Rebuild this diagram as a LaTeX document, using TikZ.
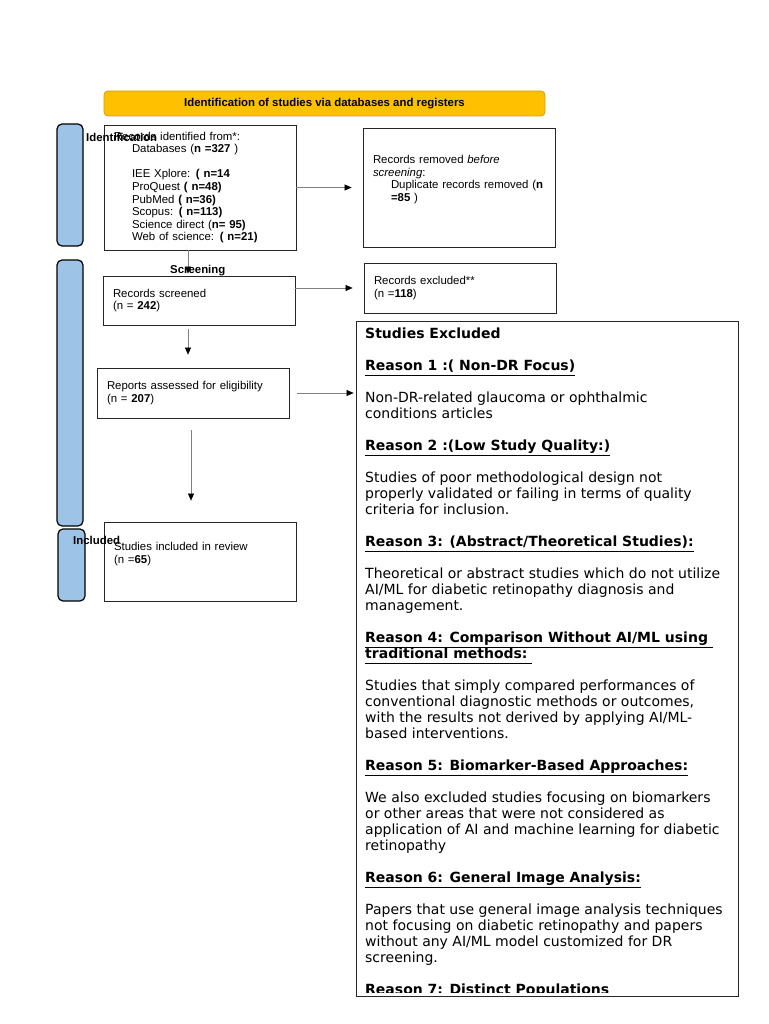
\documentclass[tikz,border=0pt]{standalone}
\usepackage{fontspec}
\setmainfont{Liberation Sans}
\newfontfamily\dejavu{DejaVu Sans}
\usetikzlibrary{arrows.meta}
\definecolor{headgold}{RGB}{255,192,0}
\definecolor{headedge}{RGB}{214,160,20}
\definecolor{barblue}{RGB}{157,195,230}
\newcommand\reasonline[1]{\underline{\smash{#1}\vphantom{y}}}

\begin{document}
\begin{tikzpicture}[
      x=1pt, y=-1pt,
      every node/.style={font=\fontsize{11.4}{12.6}\selectfont},
      header/.style={rectangle, draw=headedge, fill=headgold, rounded corners=4pt, line width=0.8pt, font=\fontsize{11.4}{12.6}\selectfont\bfseries},
      phase/.style={rectangle, draw=black, fill=barblue, rounded corners=5pt, line width=1.2pt},
      phaselabel/.style={anchor=west, inner sep=0pt, font=\fontsize{11.4}{12.6}\selectfont\bfseries},
      box/.style={rectangle, draw=black!85, line width=0.8pt, text width=172pt, inner xsep=10pt, align=left},
      bigtext/.style={anchor=north west, inner sep=0pt, align=left, font=\dejavu\fontsize{14}{16}\selectfont},
      pointer/.style={draw=gray, line width=0.6pt, -{Triangle[length=7pt,width=6pt,color=black]}}
      ]

      \useasboundingbox (0,0) rectangle (768,1024);

      %title and phase bars
      \node[header, minimum width=441pt, minimum height=25pt] (title) at (324.5,103.5) {Identification of studies via databases and registers};

      \node[phase, minimum width=26pt, minimum height=122pt] (identbar) at (70,185) {};
      \node[phase, minimum width=26pt, minimum height=266pt] (screenbar) at (70,393) {};
      \node[phase, minimum width=27pt, minimum height=72pt] (inclbar) at (71.5,565) {};

      %flow boxes
      \node[box, minimum height=125pt] (identified) at (200,187.5) {
        Records identified from*:\\
        \hspace*{18pt}Databases (\textbf{n =327} )\\[12.6pt]
        \hspace*{18pt}IEE Xplore: \textbf{( n=14}\\
        \hspace*{18pt}ProQuest \textbf{( n=48)}\\
        \hspace*{18pt}PubMed \textbf{( n=36)}\\
        \hspace*{18pt}Scopus: \textbf{( n=113)}\\
        \hspace*{18pt}Science direct (\textbf{n= 95)}\\
        \hspace*{18pt}Web of science: \textbf{( n=21)}
      };
      \node[box, minimum height=119pt] (removed) at (459,187.5) {
        Records removed \textit{before}\\
        \textit{screening}:\\
        \hspace*{18pt}Duplicate records removed (\textbf{n}\\
        \hspace*{18pt}\textbf{=85} )\\[6pt]
        \mbox{}
      };
      \node[box, minimum height=49pt] (screened) at (199,300.5) {
        Records screened\\
        (n = \textbf{242})
      };
      \node[box, minimum height=50pt] (excluded) at (460,288) {
        Records excluded**\\
        (n =\textbf{118})
      };
      \node[box, minimum height=50pt, font=\fontsize{11.4}{13.6}\selectfont] (assessed) at (193,393) {
        Reports assessed for eligibility\\
        (n = \textbf{207})
      };
      \node[box, minimum height=79pt, font=\fontsize{11.4}{13.6}\selectfont] (included) at (200,561.5) {
        Studies included in review\\
        (n =\textbf{65})\\[3.4pt]
        \mbox{}
      };

      %phase labels
      \node[phaselabel] (identlabel) at (86,137) {Identification};
      \node[phaselabel] (screenlabel) at (170,271) {Screening};
      \node[phaselabel] (incllabel) at (73,540) {Included};

      %exclusion reasons
      \node[rectangle, draw=black!85, line width=0.8pt, minimum width=382pt, minimum height=675pt] (reasons) at (547,658.5) {};
      \begin{scope}
        \clip ([yshift=4pt]reasons.south west) rectangle (reasons.north east);
        \node[bigtext] (reasonstext) at (365,327.5) {
          \textbf{Studies Excluded}\\[16pt]
          \textbf{\reasonline{Reason 1 :( Non-DR Focus)}}\\[16pt]
          Non-DR-related glaucoma or ophthalmic\\
          conditions articles\\[16pt]
          \textbf{\reasonline{Reason 2 :(Low Study Quality:)}}\\[16pt]
          Studies of poor methodological design not\\
          properly validated or failing in terms of quality\\
          criteria for inclusion.\\[16pt]
          \textbf{\reasonline{Reason 3: (Abstract/Theoretical Studies):}}\\[16pt]
          Theoretical or abstract studies which do not utilize\\
          AI/ML for diabetic retinopathy diagnosis and\\
          management.\\[16pt]
          \textbf{\reasonline{Reason 4: Comparison Without AI/ML using\ }}\\
          \textbf{\reasonline{traditional methods:\ }}\\[16pt]
          Studies that simply compared performances of\\
          conventional diagnostic methods or outcomes,\\
          with the results not derived by applying AI/ML-\\
          based interventions.\\[16pt]
          \textbf{\reasonline{Reason 5: Biomarker-Based Approaches:}}\\[16pt]
          We also excluded studies focusing on biomarkers\\
          or other areas that were not considered as\\
          application of AI and machine learning for diabetic\\
          retinopathy\\[16pt]
          \textbf{\reasonline{Reason 6: General Image Analysis:}}\\[16pt]
          Papers that use general image analysis techniques\\
          not focusing on diabetic retinopathy and papers\\
          without any AI/ML model customized for DR\\
          screening.\\[16pt]
          \textbf{\reasonline{Reason 7: Distinct Populations}}
        };
      \end{scope}

      %horizontal edges
      \path[pointer, shorten >=11pt] (identified.east) -- (removed.west);
      \path[pointer, shorten >=11pt] (screened.east |- excluded.west) -- (excluded.west);
      \path[pointer, shorten <=8pt, shorten >=2pt] (assessed.east) -- (assessed.east -| reasons.west);

      %vertical edges
      \path[pointer, shorten >=2pt] ([xshift=-12pt]identified.south) -- ([xshift=-11pt]screened.north);
      \path[pointer, shorten <=4pt, shorten >=13pt] ([xshift=-11pt]screened.south) -- ([xshift=-5pt]assessed.north);
      \path[pointer, shorten <=12pt, shorten >=21pt] ([xshift=-2pt]assessed.south) -- ([xshift=-9pt]included.north);
\end{tikzpicture}
\end{document}
